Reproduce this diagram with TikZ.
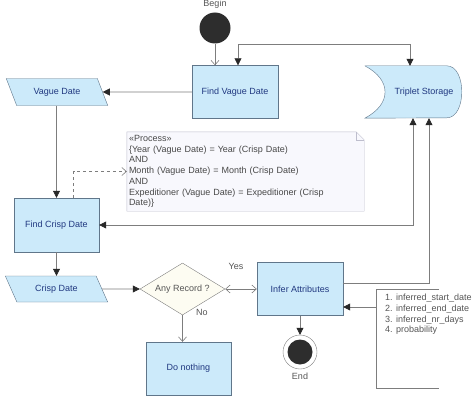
\documentclass[tikz,border=0pt]{standalone}
\usepackage{fontspec}
\setmainfont{Liberation Sans}
\usetikzlibrary{arrows.meta,positioning,shapes.geometric,backgrounds}
\definecolor{boxfill}{RGB}{204,234,250}
\definecolor{boxline}{RGB}{96,118,138}
\definecolor{boxtext}{RGB}{32,56,128}
\definecolor{linecol}{RGB}{125,125,125}
\definecolor{tipcol}{RGB}{40,40,40}
\definecolor{dotcol}{RGB}{45,45,45}
\definecolor{lblcol}{RGB}{85,85,85}
\definecolor{decfill}{RGB}{253,252,242}
\definecolor{notefill}{RGB}{248,248,253}
\definecolor{noteline}{RGB}{190,190,205}
\tikzset{
ftip/.tip={Triangle[length=7pt,width=7pt,color=tipcol]},
otip/.tip={Straight Barb[length=4.5pt,width=8pt]},
every node/.style={font=\fontsize{9}{10.7}\selectfont},
actbox/.style={rectangle, draw=boxline, fill=boxfill, text=boxtext,
               minimum width=86pt, minimum height=53pt, inner sep=2pt},
databox/.style={trapezium, trapezium left angle=122, trapezium right angle=58,
                trapezium stretches=true, draw=boxline, fill=boxfill, text=boxtext,
                minimum width=102pt, minimum height=27pt, inner sep=1pt},
storebox/.style={rectangle, minimum width=98pt, minimum height=52pt, inner sep=0pt},
boxlabel/.style={text=boxtext, inner sep=1pt},
decision/.style={diamond, aspect=1.6, draw=linecol, fill=decfill, text=lblcol,
                 minimum width=85pt, minimum height=52pt, inner sep=0pt},
startdot/.style={circle, fill=dotcol, minimum size=31pt, inner sep=0pt},
enddot/.style={circle, draw=linecol, fill=white, minimum size=34pt, inner sep=0pt,
               path picture={\fill[dotcol] (path picture bounding box.center) circle (12.5pt);}},
notebox/.style={rectangle, minimum width=237pt, minimum height=79pt, text width=233pt,
                align=left, inner sep=2pt, text=tipcol!85},
lbl/.style={text=lblcol},
flow/.style={draw=linecol, line width=0.6pt}
}
\begin{document}
\begin{tikzpicture}[x=1pt,y=1pt]
  \useasboundingbox (0,0) rectangle (474,400);

  \node[startdot] (begin) at (215,372) {};
  \node[lbl, above=0pt of begin] (beginlbl) {Begin};
  \node[actbox] (findvague) at (235,308) {Find Vague Date};
  \node[storebox] (triplet) at (414,308) {};
  \draw[draw=boxline, fill=boxfill] (triplet.north west) -- ++(82,0)
    .. controls +(20,0) and +(20,0) .. ++(0,-52) -- (triplet.south west)
    .. controls +(27,14) and +(27,-14) .. (triplet.north west);
  \node[boxlabel] (triplabel) at ([xshift=10pt]triplet.center) {Triplet Storage};
  \node[databox] (vague) at (57,308) {Vague Date};
  \node[actbox, minimum width=85pt, minimum height=54pt] (findcrisp) at (56.5,175) {Find Crisp Date};
  \node[notebox] (note) at (245.5,228.5) {«Process»\\
    \{Year (Vague Date) = Year (Crisp Date)\\
    AND\\
    Month (Vague Date) = Month (Crisp Date)\\
    AND\\
    Expeditioner (Vague Date) = Expeditioner (Crisp\\
    Date)\}};
  \begin{scope}[on background layer]
    \filldraw[fill=notefill, draw=noteline] (note.south west) -- (note.north west)
      -- ([xshift=-8pt]note.north east) -- ([yshift=-8pt]note.north east)
      -- (note.south east) -- cycle;
    \draw[noteline] ([xshift=-8pt]note.north east) -- ++(0,-8) -- ++(8,0);
  \end{scope}
  \node[databox, minimum width=103pt, minimum height=26pt] (crisp) at (56.5,111) {Crisp Date};
  \node[decision] (anyrec) at (182.5,111) {Any Record ?};
  \node[actbox, minimum width=85pt] (donothing) at (188.5,31.5) {Do nothing};
  \node[actbox] (infer) at (300,111) {Infer Attributes};
  \node[enddot] (endstate) at (300,48) {};
  \node[lbl, below=0pt of endstate] (endlbl) {End};
  \node[lbl] (yeslbl) at (236,134) {Yes};
  \node[lbl] (nolbl) at (202,88) {No};

  % attribute list
  \coordinate (brtop) at (376,111);
  \coordinate (brbot) at (376,12);
  \coordinate (attrsin) at (376,93);
  \draw[flow] ([xshift=63pt]brtop) -- (brtop) -- (brbot) -- ([xshift=63pt]brbot);
  \node[lbl, align=left, anchor=north west, inner sep=0pt] (attrs) at (385,106)
    {1. inferred\_start\_date\\2. inferred\_end\_date\\3. inferred\_nr\_days\\4. probability};

  \draw[flow, -otip] (begin) -- (begin |- findvague.north);
  \draw[flow, ftip-ftip] ([xshift=3pt]findvague.north) -- ++(0,21) -| ([xshift=-4pt]triplet.north);
  \draw[flow, -ftip] (findvague.west) -- (vague.east);
  \draw[flow, -ftip] (vague.south -| findcrisp.north) -- (findcrisp.north);
  \draw[flow, dashed, -otip] ([xshift=17pt]findcrisp.north) |- (note.west);
  \draw[flow, ftip-ftip] ([xshift=-1pt]triplet.south) |- (findcrisp.east);
  \draw[flow, -ftip] (findcrisp.south) -- (findcrisp.south |- crisp.north);
  \draw[flow, -ftip] (crisp.east) -- (anyrec.west);
  \draw[flow, otip-otip] (anyrec.east) -- (infer.west);
  \draw[flow, -otip] (anyrec.south) -- (anyrec.south |- donothing.north);
  \draw[flow, -ftip] ([yshift=6pt]infer.east) -| ([xshift=15pt]triplet.south);
  \draw[flow, -ftip] (attrsin) -- (attrsin -| infer.east);
  \draw[flow, -ftip] (infer.south) -- (endstate);
\end{tikzpicture}
\end{document}
